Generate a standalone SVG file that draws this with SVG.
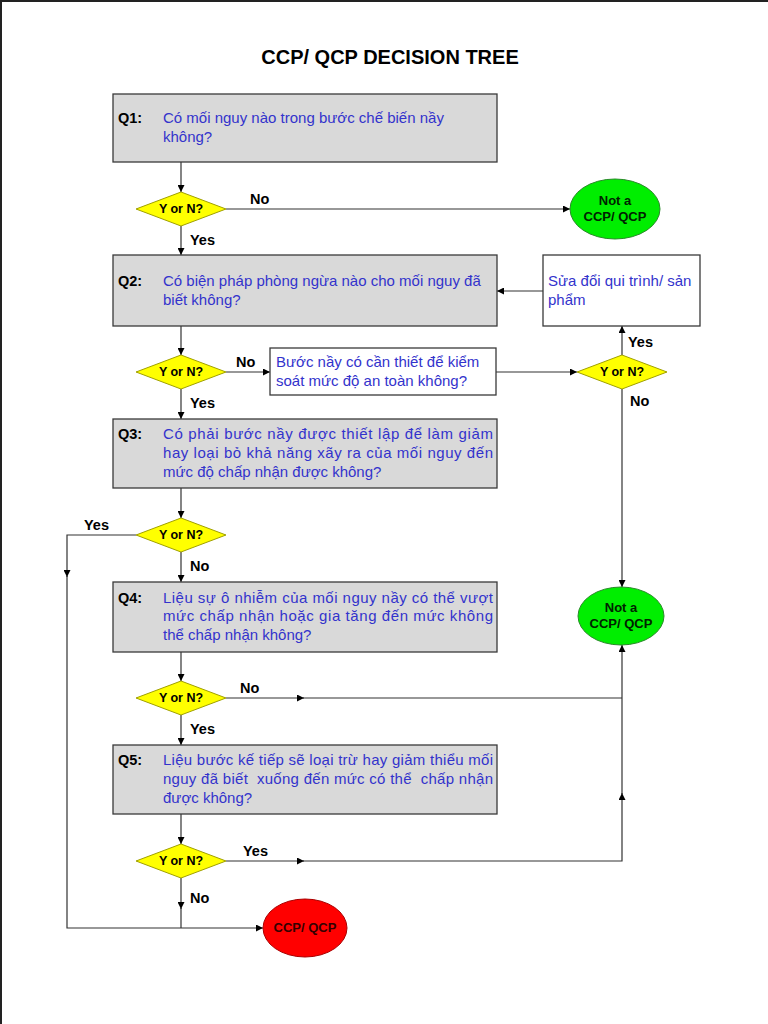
<svg xmlns="http://www.w3.org/2000/svg" width="768" height="1024" viewBox="0 0 768 1024">
<defs>
<marker id="ah" viewBox="0 0 10 10" refX="10" refY="5" markerWidth="7" markerHeight="7" markerUnits="userSpaceOnUse" orient="auto">
<path d="M0,0 L10,5 L0,10 z" fill="#000"/>
</marker>
<style>
.q{fill:#d9d9d9;stroke:#3a3a3a;stroke-width:1.3}
.w{fill:#fff;stroke:#3a3a3a;stroke-width:1.3}
.d{fill:#ffff00;stroke:#a0a000;stroke-width:1}
.g{fill:#00ee00;stroke:#2a8a2a;stroke-width:1}
.r{fill:#ff0000;stroke:#aa0000;stroke-width:1}
.qt{font-family:"Liberation Sans",Arial,sans-serif;font-size:15px;fill:#3333cc}
.ql{font-family:"Liberation Sans",Arial,sans-serif;font-size:14.5px;font-weight:bold;fill:#000}
.dt{font-family:"Liberation Sans",Arial,sans-serif;font-size:12.5px;font-weight:bold;fill:#000;text-anchor:middle}
.et{font-family:"Liberation Sans",Arial,sans-serif;font-size:13px;font-weight:bold;fill:#002200;text-anchor:middle}
.lb{font-family:"Liberation Sans",Arial,sans-serif;font-size:14.5px;font-weight:bold;fill:#000}
.c{fill:none;stroke:#333;stroke-width:1.2}
</style>
</defs>
<rect width="768" height="1024" fill="#fff"/>
<path d="M1,1024 V1 H768" fill="none" stroke="#222" stroke-width="2"/>
<text x="390" y="64" text-anchor="middle" font-family="'Liberation Sans',Arial,sans-serif" font-size="20" font-weight="bold" fill="#000">CCP/ QCP DECISION TREE</text>

<g id="connectors">
<path class="c" d="M181,162 V192" marker-end="url(#ah)"/>
<path class="c" d="M226,209 H570" marker-end="url(#ah)"/>
<path class="c" d="M181,226 V255" marker-end="url(#ah)"/>
<path class="c" d="M543,291 H497" marker-end="url(#ah)"/>
<path class="c" d="M181,326 V355" marker-end="url(#ah)"/>
<path class="c" d="M226,372 H270" marker-end="url(#ah)"/>
<path class="c" d="M496,372 H577" marker-end="url(#ah)"/>
<path class="c" d="M622,355 V326" marker-end="url(#ah)"/>
<path class="c" d="M622,389 V587" marker-end="url(#ah)"/>
<path class="c" d="M181,389 V419" marker-end="url(#ah)"/>
<path class="c" d="M181,488 V518" marker-end="url(#ah)"/>
<path class="c" d="M136,535 H67 V577" marker-end="url(#ah)"/>
<path class="c" d="M67,575 V928 H263" marker-end="url(#ah)"/>
<path class="c" d="M181,552 V582" marker-end="url(#ah)"/>
<path class="c" d="M181,652 V681" marker-end="url(#ah)"/>
<path class="c" d="M226,698 H304" marker-end="url(#ah)"/>
<path class="c" d="M302,698 H622"/>
<path class="c" d="M181,715 V745" marker-end="url(#ah)"/>
<path class="c" d="M181,814 V844" marker-end="url(#ah)"/>
<path class="c" d="M226,861 H304" marker-end="url(#ah)"/>
<path class="c" d="M302,861 H622 V793" marker-end="url(#ah)"/>
<path class="c" d="M622,795 V645" marker-end="url(#ah)"/>
<path class="c" d="M181,878 V909" marker-end="url(#ah)"/>
<path class="c" d="M181,907 V928"/>
<text class="lb" x="250" y="204">No</text>
<text class="lb" x="190" y="245">Yes</text>
<text class="lb" x="236" y="367">No</text>
<text class="lb" x="190" y="408">Yes</text>
<text class="lb" x="628" y="347">Yes</text>
<text class="lb" x="630" y="406">No</text>
<text class="lb" x="84" y="530">Yes</text>
<text class="lb" x="190" y="571">No</text>
<text class="lb" x="240" y="693">No</text>
<text class="lb" x="190" y="734">Yes</text>
<text class="lb" x="243" y="856">Yes</text>
<text class="lb" x="190" y="903">No</text>
</g>

<g id="q1">
<rect class="q" x="113" y="94" width="384" height="68"/>
<text class="ql" x="118" y="123">Q1:</text>
<text class="qt" x="163" y="123">Có mối nguy nào trong bước chế biến nầy</text>
<text class="qt" x="163" y="142">không?</text>
</g>
<g id="d1">
<polygon class="d" points="181,192 226,209 181,226 136,209"/>
<text class="dt" x="181" y="213">Y or N?</text>
</g>
<g id="notccp1">
<ellipse class="g" cx="615" cy="209" rx="45" ry="30"/>
<text class="et" x="615" y="205">Not a</text>
<text class="et" x="615" y="221">CCP/ QCP</text>
</g>

<g id="q2">
<rect class="q" x="113" y="255" width="384" height="71"/>
<text class="ql" x="118" y="286">Q2:</text>
<text class="qt" x="163" y="286">Có biện pháp phòng ngừa nào cho mối nguy đã</text>
<text class="qt" x="163" y="305">biết không?</text>
</g>
<g id="modify">
<rect class="w" x="543" y="255" width="157" height="71"/>
<text class="qt" x="548" y="286">Sửa đổi qui trình/ sản</text>
<text class="qt" x="548" y="305">phẩm</text>
</g>
<g id="d2">
<polygon class="d" points="181,355 226,372 181,389 136,372"/>
<text class="dt" x="181" y="376">Y or N?</text>
</g>
<g id="control">
<rect class="w" x="270" y="348" width="226" height="47"/>
<text class="qt" x="276" y="367">Bước nầy có cần thiết để kiểm</text>
<text class="qt" x="276" y="386">soát mức độ an toàn không?</text>
</g>
<g id="d3">
<polygon class="d" points="622,355 667,372 622,389 577,372"/>
<text class="dt" x="622" y="376">Y or N?</text>
</g>

<g id="q3">
<rect class="q" x="113" y="419" width="384" height="69"/>
<text class="ql" x="118" y="439">Q3:</text>
<text class="qt" x="163" y="439" textLength="330" lengthAdjust="spacing">Có phải bước nầy được thiết lập để làm giảm</text>
<text class="qt" x="163" y="458" textLength="330" lengthAdjust="spacing">hay loại bỏ khả năng xãy ra của mối nguy đến</text>
<text class="qt" x="163" y="477">mức độ chấp nhận được không?</text>
</g>
<g id="d4">
<polygon class="d" points="181,518 226,535 181,552 136,535"/>
<text class="dt" x="181" y="539">Y or N?</text>
</g>

<g id="q4">
<rect class="q" x="113" y="582" width="384" height="70"/>
<text class="ql" x="118" y="603">Q4:</text>
<text class="qt" x="163" y="603" textLength="330" lengthAdjust="spacing">Liệu sự ô nhiễm của mối nguy nầy có thể vượt</text>
<text class="qt" x="163" y="621" textLength="330" lengthAdjust="spacing">mức chấp nhận hoặc gia tăng đến mức không</text>
<text class="qt" x="163" y="640">thể chấp nhận không?</text>
</g>
<g id="notccp2">
<ellipse class="g" cx="621" cy="616" rx="43" ry="29"/>
<text class="et" x="621" y="612">Not a</text>
<text class="et" x="621" y="628">CCP/ QCP</text>
</g>
<g id="d5">
<polygon class="d" points="181,681 226,698 181,715 136,698"/>
<text class="dt" x="181" y="702">Y or N?</text>
</g>

<g id="q5">
<rect class="q" x="113" y="745" width="384" height="69"/>
<text class="ql" x="118" y="765">Q5:</text>
<text class="qt" x="163" y="765" textLength="330" lengthAdjust="spacing">Liệu bước kế tiếp sẽ loại trừ hay giảm thiểu mối</text>
<text class="qt" x="163" y="784" textLength="330" lengthAdjust="spacing" style="white-space:pre">nguy đã biết  xuống đến mức có thể  chấp nhận</text>
<text class="qt" x="163" y="803">được không?</text>
</g>
<g id="d6">
<polygon class="d" points="181,844 226,861 181,878 136,861"/>
<text class="dt" x="181" y="865">Y or N?</text>
</g>
<g id="ccp">
<ellipse class="r" cx="305" cy="928" rx="42" ry="29"/>
<text class="et" x="305" y="932" style="fill:#330000">CCP/ QCP</text>
</g>
</svg>
